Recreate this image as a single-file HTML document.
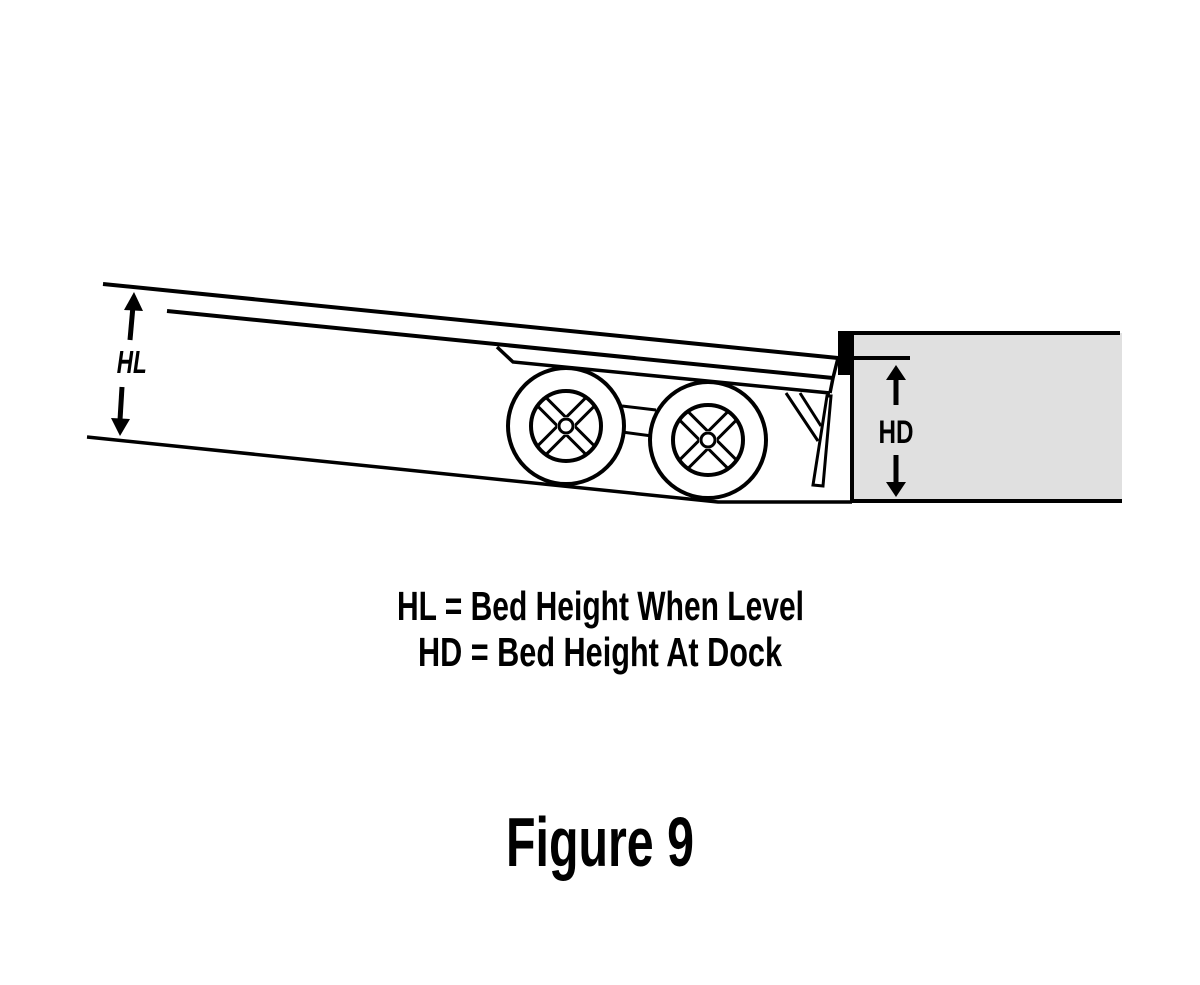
<!DOCTYPE html>
<html><head><meta charset="utf-8"><style>
html,body{margin:0;padding:0;background:#fff;}
svg{display:block;}
text{font-family:"Liberation Sans Narrow","Liberation Sans",sans-serif;font-weight:bold;fill:#000;}
</style></head><body>
<svg width="1200" height="985" viewBox="0 0 1200 985" xmlns="http://www.w3.org/2000/svg">
<g fill="none" stroke="#000" stroke-linejoin="miter">
<!-- dock -->
<rect x="852" y="333" width="270" height="168" fill="#e0e0e0" stroke="none"/>
<line x1="852" y1="333" x2="1120" y2="333" stroke-width="4"/>
<line x1="852" y1="501" x2="1122" y2="501" stroke-width="4"/>
<line x1="852" y1="331" x2="852" y2="503" stroke-width="4"/>
<rect x="838" y="331" width="15" height="44" fill="#000" stroke="none"/>
<line x1="838" y1="358" x2="910" y2="358" stroke-width="4"/>
<!-- deck -->
<line x1="103" y1="284" x2="838" y2="358" stroke-width="4"/>
<line x1="167" y1="311" x2="833" y2="378" stroke-width="4"/>
<polyline points="497,347 513,362 830,393" stroke-width="3.5"/>
<polyline points="838,358 833,378 830,393" stroke-width="3.5"/>
<!-- leg -->
<polygon points="827,396 831,396 823,486 813,485" stroke-width="3" fill="#fff"/>
<line x1="786" y1="393" x2="818" y2="441" stroke-width="3"/>
<line x1="800" y1="393" x2="821" y2="426" stroke-width="3"/>
<!-- bottom -->
<polyline points="87,437 718,502 852,502" stroke-width="3.5"/>
<!-- axle link -->
<line x1="622" y1="406" x2="656" y2="410" stroke-width="3"/>
<line x1="622" y1="432" x2="652" y2="436" stroke-width="3"/>
<!-- wheels -->
<g stroke-width="4" fill="#fff">
<circle cx="566" cy="426" r="58"/>
<circle cx="708" cy="440" r="58"/>
</g>
<g stroke-width="4">
<circle cx="566" cy="426" r="35"/>
<circle cx="708" cy="440" r="35"/>
</g>
<g stroke-width="3">
<g transform="translate(566,426) rotate(45)">
<line x1="-34" y1="-6" x2="34" y2="-6"/><line x1="-34" y1="6" x2="34" y2="6"/>
<line x1="-6" y1="-34" x2="-6" y2="34"/><line x1="6" y1="-34" x2="6" y2="34"/>
<circle r="9" fill="#fff" stroke="none"/>
<circle r="7" fill="#fff"/>
</g>
<g transform="translate(708,440) rotate(45)">
<line x1="-34" y1="-6" x2="34" y2="-6"/><line x1="-34" y1="6" x2="34" y2="6"/>
<line x1="-6" y1="-34" x2="-6" y2="34"/><line x1="6" y1="-34" x2="6" y2="34"/>
<circle r="9" fill="#fff" stroke="none"/>
<circle r="7" fill="#fff"/>
</g>
</g>
<!-- HL arrows -->
<line x1="130" y1="340" x2="133" y2="306" stroke-width="5"/>
<line x1="122" y1="387" x2="120" y2="420" stroke-width="5"/>
<!-- HD arrows -->
<line x1="896" y1="405" x2="896" y2="378" stroke-width="5"/>
<line x1="896" y1="455" x2="896" y2="484" stroke-width="5"/>
</g>
<g fill="#000">
<polygon points="134,292 124,310 143,311"/>
<polygon points="120,436 111,418 130,419"/>
<polygon points="896,365 886,380 906,380"/>
<polygon points="896,497 886,482 906,482"/>
</g>
<text x="131" y="373" font-size="32" text-anchor="middle" transform="skewX(-8) translate(52,0)" textLength="30" lengthAdjust="spacingAndGlyphs">HL</text>
<text x="896" y="443" font-size="32" text-anchor="middle" textLength="35" lengthAdjust="spacingAndGlyphs">HD</text>
<text x="397" y="620" font-size="41" textLength="407" lengthAdjust="spacingAndGlyphs">HL = Bed Height When Level</text>
<text x="418" y="666" font-size="41" textLength="364" lengthAdjust="spacingAndGlyphs">HD = Bed Height At Dock</text>
<text x="506" y="866" font-size="70" textLength="188" lengthAdjust="spacingAndGlyphs">Figure 9</text>
</svg>
</body></html>
